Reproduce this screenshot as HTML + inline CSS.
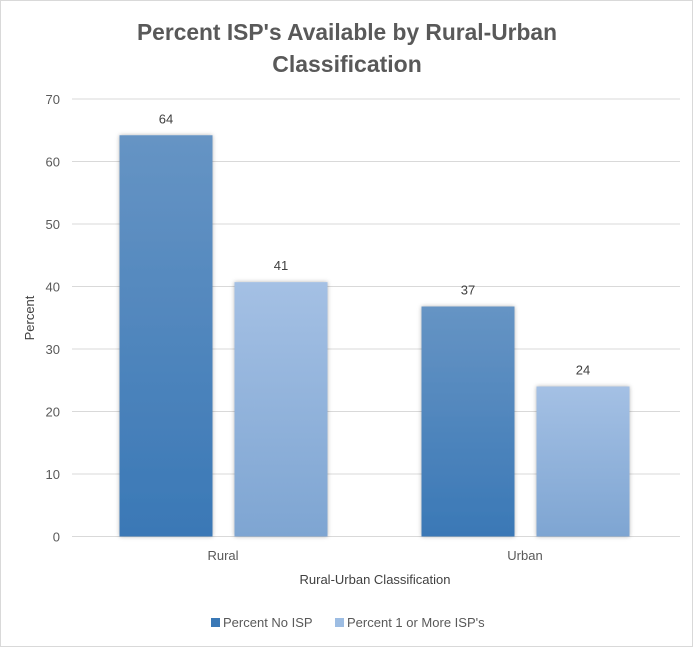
<!DOCTYPE html>
<html><head><meta charset="utf-8"><style>
body{margin:0;background:#fff;}
svg{display:block;font-family:"Liberation Sans",sans-serif;}
</style></head><body>
<svg id="chart" width="693" height="647">
<defs>
<linearGradient id="g1" x1="0" y1="0" x2="0" y2="1"><stop offset="0" stop-color="#6694c4"/><stop offset="1" stop-color="#3a78b6"/></linearGradient>
<linearGradient id="g2" x1="0" y1="0" x2="0" y2="1"><stop offset="0" stop-color="#a4c0e4"/><stop offset="1" stop-color="#7ea5d2"/></linearGradient>
<filter id="sh" x="-20%" y="-20%" width="140%" height="140%"><feDropShadow dx="0" dy="0" stdDeviation="2" flood-color="#000" flood-opacity="0.3"/></filter>
</defs>
<rect x="0.5" y="0.5" width="692" height="646" fill="#fff" stroke="#d9d9d9"/>
<text x="347" y="40" text-anchor="middle" font-size="23" font-weight="bold" fill="#595959" textLength="420" lengthAdjust="spacingAndGlyphs">Percent ISP's Available by Rural-Urban</text>
<text x="347" y="72" text-anchor="middle" font-size="23" font-weight="bold" fill="#595959">Classification</text>
<g id="grid"></g>
<g id="bars"></g>
<text transform="translate(34,318) rotate(-90)" text-anchor="middle" font-size="13" fill="#404040">Percent</text>
<text x="375" y="584" text-anchor="middle" font-size="13" fill="#404040">Rural-Urban Classification</text>
<g>
<rect x="211" y="618" width="9" height="9" fill="#3a78b6"/>
<text x="223" y="627" font-size="13" fill="#595959">Percent No ISP</text>
<rect x="335" y="618" width="9" height="9" fill="#9dbde3"/>
<text x="347" y="627" font-size="13" fill="#595959">Percent 1 or More ISP's</text>
</g>
</svg>
<script>
const categories = ["Rural", "Urban"];
const noIsp = [64.2, 36.8];
const oneOrMore = [40.7, 24.0];
const labelsNo = ["64", "37"];
const labelsOne = ["41", "24"];
const yTicks = [0, 10, 20, 30, 40, 50, 60, 70];

const NS = "http://www.w3.org/2000/svg";
const x0 = 72, x1 = 680, y0 = 536.5, pxPerUnit = 6.25;
const cx0 = 72, cx1 = 676;
const yScale = v => y0 - v * pxPerUnit;
const catW = (cx1 - cx0) / categories.length;
function mk(tag, attrs, parent) { const e = document.createElementNS(NS, tag); for (const k in attrs) e.setAttribute(k, attrs[k]); parent.appendChild(e); return e; }
const grid = document.getElementById("grid"), bars = document.getElementById("bars");
yTicks.forEach(t => {
  const y = yScale(t);
  const l = mk("line", {x1: x0, x2: x1, y1: y, y2: y, stroke: "#d9d9d9", "stroke-width": 1}, grid);
  
  
  const tx = mk("text", {x: 60, y: y + 5, "text-anchor": "end", "font-size": 13, fill: "#595959"}, grid);
  tx.textContent = t;
  
  
});
const barW = 93, gap = 22;
categories.forEach((c, i) => {
  const cx = cx0 + catW * (i + 0.5);
  const series = [[noIsp[i], labelsNo[i], "url(#g1)", "no-isp"], [oneOrMore[i], labelsOne[i], "url(#g2)", "1-or-more"]];
  series.forEach((s, j) => {
    const bx = j === 0 ? cx - gap / 2 - barW + 0.5 : cx + gap / 2 + 0.5;
    const r = mk("rect", {x: bx, y: yScale(s[0]), width: barW, height: y0 - yScale(s[0]), fill: s[2], filter: "url(#sh)"}, bars);
    
    
    const lb = mk("text", {x: bx + barW / 2, y: yScale(s[0]) - 12, "text-anchor": "middle", "font-size": 13, fill: "#404040"}, bars);
    lb.textContent = s[1];
    
    
  });
  const ct = mk("text", {x: cx, y: 560, "text-anchor": "middle", "font-size": 13, fill: "#595959"}, bars);
  ct.textContent = c;
  
  
});
</script>
</body></html>
